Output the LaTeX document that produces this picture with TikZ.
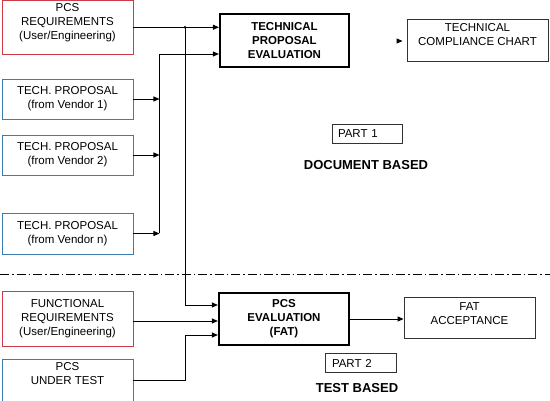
\documentclass[tikz,border=0pt]{standalone}
\usepackage{fontspec}
\setmainfont{Liberation Sans}
\usetikzlibrary{arrows.meta,calc}
\definecolor{boxred}{RGB}{205,60,70}
\definecolor{boxblue}{RGB}{60,125,175}
\begin{document}
\begin{tikzpicture}[x=1pt,y=-1pt,
  txt/.style={font=\fontsize{11.5}{14}\selectfont, align=center, inner sep=0pt},
  box/.style={draw, line width=0.9pt, inner sep=0pt, align=center,
    font=\fontsize{11.5}{14}\selectfont},
  redbox/.style={box, draw=boxred, minimum width=131pt},
  bluebox/.style={box, draw=boxblue, minimum width=131pt},
  evalbox/.style={box, line width=2.2pt, minimum width=129pt,
    font=\fontsize{11.5}{14}\selectfont\bfseries},
  plainbox/.style={box, draw=black!80},
  partbox/.style={draw=black!80, line width=0.8pt, inner ysep=0pt, align=left,
    font=\fontsize{11.5}{14}\selectfont, minimum height=19pt},
  heading/.style={font=\fontsize{13}{15}\selectfont\bfseries, inner sep=0pt},
  arr/.style={line width=0.9pt, -{Triangle[length=6pt,width=5pt]}},
  line/.style={line width=0.9pt}
]
\useasboundingbox (0,0) rectangle (550,401);

% left column boxes
\node[redbox, minimum height=53.5pt] (preq) at (67.5,27.25) {};
\node[txt] (preqt) at (67.5,23) {PCS\\REQUIREMENTS\\(User/Engineering)};
\node[bluebox, minimum height=40pt] (v1) at (67.5,99) {TECH. PROPOSAL\\(from Vendor 1)};
\node[bluebox, minimum height=40pt] (v2) at (67.5,155) {TECH. PROPOSAL\\(from Vendor 2)};
\node[bluebox, minimum height=41pt] (vn) at (67.5,233.5) {TECH. PROPOSAL\\(from Vendor n)};
\node[redbox, minimum height=55pt] (freq) at (67.5,318.5) {FUNCTIONAL\\REQUIREMENTS\\(User/Engineering)};
\node[bluebox, minimum height=42pt] (put) at (67.5,380) {};
\node[txt] (putt) at (67.5,374) {PCS\\UNDER TEST};

% evaluation boxes
\node[evalbox, minimum height=53pt] (tpe) at (284.5,40.5) {TECHNICAL\\PROPOSAL\\EVALUATION};
\node[evalbox, minimum width=130pt, minimum height=52pt] (pe) at (284,319) {PCS\\EVALUATION\\(FAT)};

% result boxes
\node[plainbox, minimum width=141pt, minimum height=42pt] (tcc) at (477.5,40) {};
\node[txt] (tcct) at (477.5,35) {TECHNICAL\\COMPLIANCE CHART};
\node[plainbox, minimum width=131pt, minimum height=41pt] (fat) at (469.5,317.5) {};
\node[txt] (fatt) at (469.5,313.5) {FAT\\ACCEPTANCE};

% part labels
\node[partbox, text width=58pt, inner xsep=6pt] (p1) at (367,133.5) {PART 1};
\node[heading] (db) at (366,165) {DOCUMENT BASED};
\node[partbox, text width=57pt, inner xsep=7pt] (p2) at (360.5,363) {PART 2};
\node[heading] (tb) at (357,388) {TEST BASED};

% separator
\draw[line width=0.8pt, dash pattern=on 9pt off 3pt on 1.5pt off 3pt] (0,274) -- (550,274);

% connectors part 1
\coordinate (busB) at (185,27.25);
\draw[arr] (preq.east) -- (preq.east -| tpe.west);
\fill (busB) circle (1.3pt);
\draw[arr] (busB) |- ([yshift=14pt]pe.west);
\draw[arr] (v1.east) -- ++(26,0);
\draw[arr] (v2.east) -- ++(26,0);
\draw[arr] (vn.east) -- ++(26,0);
\draw[arr] (vn.east) ++(26,0) |- ([yshift=-13.5pt]tpe.west);
\draw[arr] ([xshift=-10pt,yshift=-1pt]tcc.west) -- ([xshift=-4pt,yshift=-1pt]tcc.west);

% connectors part 2
\draw[arr] ([yshift=-2.5pt]freq.east) -- ([yshift=-2pt]pe.west);
\draw[arr] (put.east) -- ++(52,0) |- ([yshift=-16pt]pe.west);
\draw[arr] (pe.east) -- (pe.east -| fat.west);
\end{tikzpicture}
\end{document}
